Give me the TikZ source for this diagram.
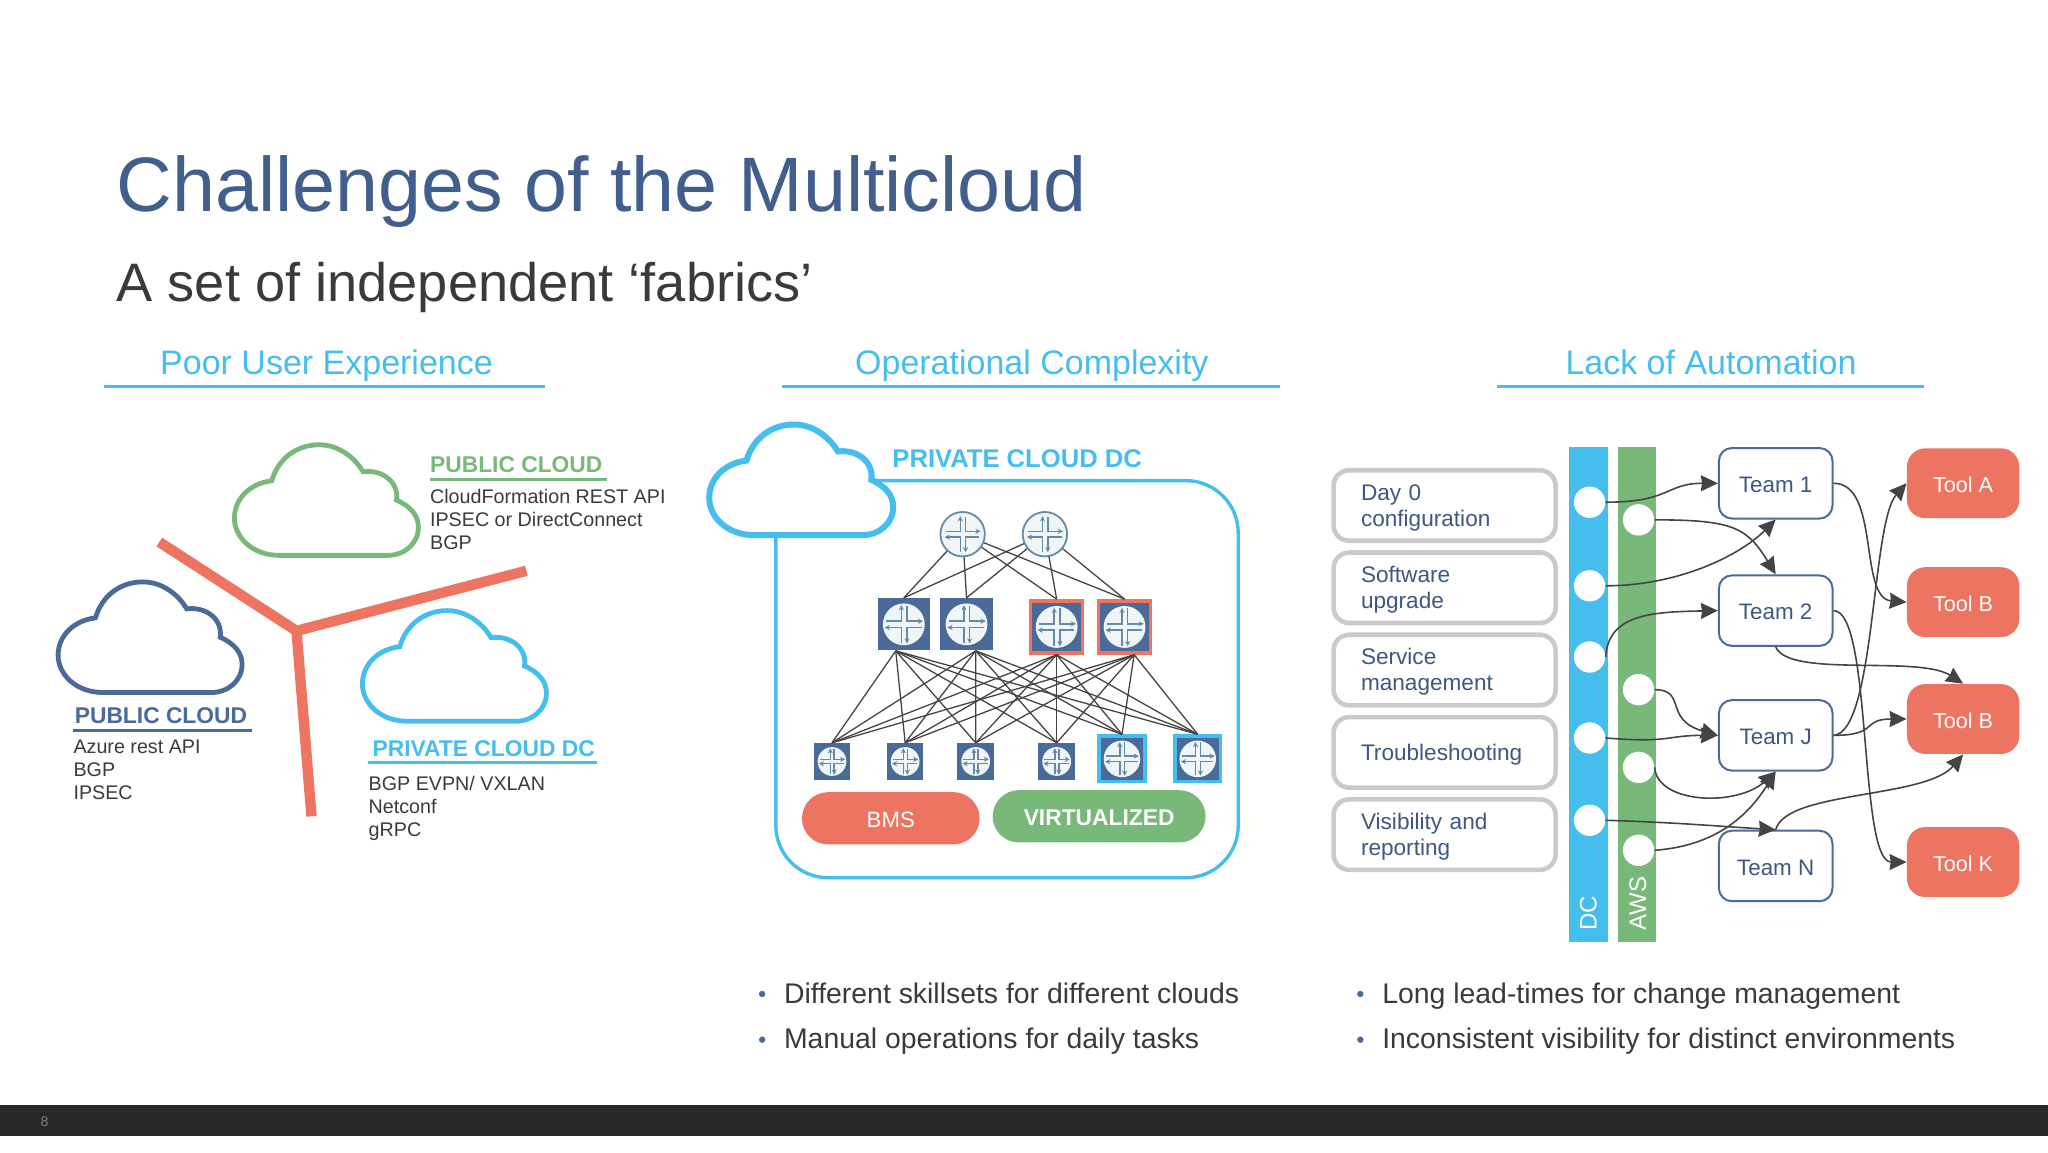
\documentclass[tikz,border=0pt]{standalone}
\usepackage{fontspec}
\setmainfont{Liberation Sans}
\usetikzlibrary{arrows.meta}
\newcommand{\un}{.65306pt}

\begin{document}
\begin{tikzpicture}[
    x=.65306pt, y=-.65306pt,
    headline/.style={anchor=base, text=skycyan, font=\fontsize{17}{20}\selectfont},
    headrule/.style={draw=skycyan, line width=1.4pt},
    cloudname/.style={anchor=west, inner sep=0pt, font=\bfseries\fontsize{11.4}{14}\selectfont},
    plainlist/.style={anchor=west, inner sep=0pt, align=left, text=inkgrey, font=\fontsize{9.85}{11.43}\selectfont},
    bullettext/.style={anchor=base west, inner sep=0pt, text=inkgrey, font=\fontsize{14.2}{17}\selectfont},
    dotmark/.style={circle, fill=slateblue, inner sep=0pt, minimum size=3.2pt},
    spinebox/.style={rectangle, fill=slateblue, inner sep=0pt, minimum size=#1*\un},
    toprouter/.style={circle, draw=iconblue, line width=.9pt, fill=iconpale, inner sep=0pt, minimum size=34*\un},
    link/.style={draw=linkgrey, line width=.65pt},
    pill/.style={rounded corners=20*\un, text=white, inner sep=0pt, minimum height=40*\un,
        execute at begin node={\rule{0pt}{9.6pt}}},
    stepbox/.style={draw=stepgrey, line width=2.3pt, fill=white, rounded corners=12*\un, align=left, text=slatetext,
        text width=128*\un, inner xsep=21*\un, inner ysep=0pt, minimum height=54*\un,
        font=\fontsize{11.3}{13}\selectfont, execute at begin node={\rule{0pt}{10.2pt}}},
    barlabel/.style={rotate=90, text=white, inner sep=0pt, font=\fontsize{12}{14}\selectfont},
    port/.style={circle, fill=white, inner sep=0pt, minimum size=24*\un},
    teambox/.style={draw=slateblue, line width=1pt, fill=white, rounded corners=10*\un, text=slatetext,
        inner sep=0pt, minimum width=87*\un, minimum height=54*\un, font=\fontsize{11.2}{13}\selectfont,
        execute at begin node={\rule{0pt}{9.2pt}}},
    toolbox/.style={fill=coral, rounded corners=14*\un, text=white,
        inner sep=0pt, minimum width=86*\un, minimum height=53.5*\un, font=\fontsize{10.8}{13}\selectfont,
        execute at begin node={\rule{0pt}{9.2pt}}},
    flow/.style={draw=linkgrey, line width=.8pt, -{Stealth[length=8.5pt, width=8pt, inset=.6pt]}},
    cloudpic/.pic={
        \path[pic actions, scale=.985] (36,86) .. controls (15,86) and (1,72) .. (1,57) .. controls (1,42) and (13,30) .. (30,28)
            .. controls (35,11) and (49,0) .. (67,0) .. controls (81,0) and (94,9) .. (101,21)
            .. controls (116,19) and (129,29) .. (127,43) .. controls (138,48) and (144,55) .. (144,64)
            .. controls (144,77) and (133,86) .. (120,86) -- cycle;
    },
    routericon/.pic={
        \fill[iconpale] (0,0) circle (#1);
        \draw[iconblue, line width=.75pt, -{Stealth[length=2.6pt, width=2.6pt]}] (-.85*#1,-.15*#1) -- (-.12*#1,-.15*#1) -- (-.12*#1,-.92*#1);
        \draw[iconblue, line width=.75pt, -{Stealth[length=2.6pt, width=2.6pt]}] (.15*#1,-.9*#1) -- (.15*#1,-.15*#1) -- (.92*#1,-.15*#1);
        \draw[iconblue, line width=.75pt, -{Stealth[length=2.6pt, width=2.6pt]}] (-.12*#1,.9*#1) -- (-.12*#1,.15*#1) -- (-.92*#1,.15*#1);
        \draw[iconblue, line width=.75pt, -{Stealth[length=2.6pt, width=2.6pt]}] (.85*#1,.15*#1) -- (.15*#1,.15*#1) -- (.15*#1,.92*#1);
    },
]
    % Define colors
    \definecolor{titleblue}{RGB}{66,94,140}
    \definecolor{slateblue}{RGB}{74,107,154}
    \definecolor{slatetext}{RGB}{62,88,130}
    \definecolor{skycyan}{RGB}{69,190,238}
    \definecolor{leafgreen}{RGB}{120,184,120}
    \definecolor{coral}{RGB}{236,116,96}
    \definecolor{inkgrey}{RGB}{58,58,58}
    \definecolor{linkgrey}{RGB}{68,68,68}
    \definecolor{stepgrey}{RGB}{202,202,206}
    \definecolor{iconblue}{RGB}{100,138,165}
    \definecolor{iconpale}{RGB}{240,245,248}
    \definecolor{barblack}{RGB}{40,40,40}

    \useasboundingbox (0,0) rectangle (1568,882);

    % Add title
    \node[anchor=base west, inner sep=0pt, text=titleblue, font=\fontsize{38.6}{44}\selectfont] (title) at (89,162) {Challenges of the Multicloud};
    \node[anchor=base west, inner sep=0pt, text=inkgrey, font=\fontsize{27.1}{32}\selectfont] (subtitle) at (89,231) {A set of independent ‘fabrics’};

    % Add section heads
    \node[headline] (headA) at (250,287) {Poor User Experience};
    \node[headline] (headB) at (790,287) {Operational Complexity};
    \node[headline] (headC) at (1310,287) {Lack of Automation};
    \draw[headrule] (80,296) -- (417,296);
    \draw[headrule] (599,296) -- (980,296);
    \draw[headrule] (1146,296) -- (1473,296);

    % Draw left panel
    \draw[coral, line width=5.2pt] (122,415) -- (227,483) -- (403,437);
    \draw[coral, line width=5.2pt] (227,483) -- (238.5,625);
    \pic[draw=leafgreen, fill=white, line width=2.4pt] at (178.5,340.5) {cloudpic};
    \pic[draw=slateblue, fill=white, line width=2.4pt] at (43.5,445.5) {cloudpic};
    \pic[draw=skycyan, fill=white, line width=2.4pt] at (276.5,467.5) {cloudpic};
    \node[cloudname, text=leafgreen] (pubA) at (329,356) {PUBLIC CLOUD};
    \draw[leafgreen, line width=1.4pt] (329,367) -- (465,367);
    \node[plainlist] (pubAlist) at (329,397.5) {CloudFormation REST API\\IPSEC or DirectConnect\\BGP};
    \node[cloudname, text=slateblue] (pubB) at (57,548) {PUBLIC CLOUD};
    \draw[slateblue, line width=1.4pt] (56,559) -- (193,559);
    \node[plainlist] (pubBlist) at (56,589.5) {Azure rest API\\BGP\\IPSEC};
    \node[cloudname, text=skycyan] (privA) at (285,573) {PRIVATE CLOUD DC};
    \draw[skycyan, line width=1.4pt] (282,584) -- (457,584);
    \node[plainlist] (privAlist) at (282,619) {BGP EVPN/ VXLAN\\Netconf\\gRPC};

    % Draw middle panel
    \node[draw=skycyan, line width=1.7pt, rounded corners=40*\un, minimum width=354*\un, minimum height=304*\un] (dcbox) at (771,520) {};
    \pic[draw=skycyan, fill=white, line width=3pt] at (542,325) {cloudpic};
    \node[cloudname, text=skycyan, font=\bfseries\fontsize{12.8}{15}\selectfont] (dcname) at (683,351) {PRIVATE CLOUD DC};

    % Draw routers
    \node[toprouter] (t1) at (737,409) {};
    \node[toprouter] (t2) at (800,409) {};
    \node[spinebox=40] (s1) at (692,478) {};
    \node[spinebox=40] (s2) at (740,478) {};
    \node[spinebox=40, draw=coral, line width=1.7pt] (s3) at (809,480) {};
    \node[spinebox=40, draw=coral, line width=1.7pt] (s4) at (861,480) {};
    \node[spinebox=28] (l1) at (637,583) {};
    \node[spinebox=28] (l2) at (693,583) {};
    \node[spinebox=28] (l3) at (747,583) {};
    \node[spinebox=28] (l4) at (809,583) {};
    \node[spinebox=35, draw=skycyan, line width=1.7pt] (l5) at (859,581) {};
    \node[spinebox=35, draw=skycyan, line width=1.7pt] (l6) at (917,581) {};
    \foreach \s in {t1,t2}
        \pic at (\s) {routericon=15};
    \foreach \s in {s1,s2,s3,s4}
        \pic at (\s) {routericon=16};
    \foreach \s in {l1,l2,l3,l4}
        \pic at (\s) {routericon=11};
    \foreach \s in {l5,l6}
        \pic at (\s) {routericon=14};

    % Draw links
    \foreach \t in {t1,t2}
        \foreach \s in {s1,s2,s3,s4}
            \draw[link] (\t) -- (\s.north);
    \foreach \s/\a in {s1/253,s2/289,s3/270,s4/289}
        \foreach \l in {l1,l2,l3,l4,l5,l6}
            \draw[link] (\s.\a) -- (\l.north);

    \node[pill, fill=coral, minimum width=136*\un, font=\fontsize{11.1}{13}\selectfont] (bms) at (682,626.5) {BMS};
    \node[pill, fill=leafgreen, minimum width=163*\un, font=\bfseries\fontsize{11.4}{13}\selectfont] (virt) at (841.5,625) {VIRTUALIZED};

    % Draw right panel
    \node[stepbox] (step1) at (1106,387) {Day 0\\configuration};
    \node[stepbox] (step2) at (1106,450) {Software\\upgrade};
    \node[stepbox] (step3) at (1106,513) {Service\\management};
    \node[stepbox] (step4) at (1106,576) {Troubleshooting};
    \node[stepbox] (step5) at (1106,639) {Visibility and\\reporting};

    \fill[skycyan] (1201,342) rectangle (1231,721);
    \fill[leafgreen] (1239,342) rectangle (1268,721);
    \node[barlabel] (dcbar) at (1216,699) {DC};
    \node[barlabel] (awsbar) at (1254,692) {AWS};

    \node[port] (d1) at (1217,384.5) {};
    \node[port] (d2) at (1217,448.5) {};
    \node[port] (d3) at (1217,503) {};
    \node[port] (d4) at (1217,565) {};
    \node[port] (d5) at (1217,628) {};
    \node[port] (a1) at (1254.5,398) {};
    \node[port] (a2) at (1254.5,528) {};
    \node[port] (a3) at (1254.5,587.5) {};
    \node[port] (a4) at (1254.5,651) {};

    \node[teambox] (team1) at (1359.5,370) {Team 1};
    \node[teambox] (team2) at (1359.5,467.5) {Team 2};
    \node[teambox] (teamj) at (1359.5,563) {Team J};
    \node[teambox] (teamn) at (1359.5,663) {Team N};

    \node[toolbox] (toola) at (1503,370) {Tool A};
    \node[toolbox] (toolb) at (1503,461) {Tool B};
    \node[toolbox] (toolc) at (1503,550.5) {Tool B};
    \node[toolbox] (toolk) at (1503,660) {Tool K};

    % Draw arrows
    \draw[flow] (d1.east) .. controls +(50,0) and +(-40,0) .. (team1.west);
    \draw[flow] (a1.east) .. controls +(60,0) and +(-22,-36) .. (team2.north);
    \draw[flow] (d2.east) .. controls +(55,0) and +(-28,28) .. (team1.south);
    \draw[flow] (d3.east) .. controls +(2,-33) and +(-50,1) .. (team2.west);
    \draw[flow] (a2.east) .. controls +(25,0) and +(-42,-12) .. (teamj.west);
    \draw[flow] (d4.east) .. controls +(50,4) and +(-40,0) .. (teamj.west);
    \draw[flow] (a3.east) .. controls +(2,28) and +(-30,27) .. (teamj.south);
    \draw[flow] (a4.east) .. controls +(40,-3) and +(-25,40) .. (teamj.south);
    \draw[flow] (d5.east) .. controls +(60,2) and +(-50,-3) .. (teamn.north);
    \draw[flow] (team1.east) .. controls +(36,0) and +(-37,-3) .. (toolb.west);
    \draw[flow] (team2.east) .. controls +(30,0) and +(-37,0) .. (toolk.west);
    \draw[flow] (team2.south) .. controls +(10,24) and +(-34,-22) .. (toolc.north);
    \draw[flow] (teamj.east) .. controls +(32,-2) and +(-27,30) .. (toola.west);
    \draw[flow] (teamj.east) .. controls +(35,0) and +(-35,0) .. (toolc.west);
    \draw[flow] (teamn.north) .. controls +(8,-30) and +(-29,34) .. (toolc.south);

    % Add bullet lists
    \node[dotmark] (dot1) at (583.5,761) {};
    \node[dotmark] (dot2) at (583.5,796) {};
    \node[bullettext] (txt1) at (600,768) {Different skillsets for different clouds};
    \node[bullettext] (txt2) at (600,803) {Manual operations for daily tasks};
    \node[dotmark] (dot3) at (1041.5,761) {};
    \node[dotmark] (dot4) at (1041.5,796) {};
    \node[bullettext] (txt3) at (1058,768) {Long lead-times for change management};
    \node[bullettext] (txt4) at (1058,803) {Inconsistent visibility for distinct environments};

    % Add footer bar
    \fill[barblack] (0,846) rectangle (1568,870);
    \node[text=gray, font=\fontsize{7}{8}\selectfont] (pageno) at (34,858.5) {8};
\end{tikzpicture}
\end{document}
